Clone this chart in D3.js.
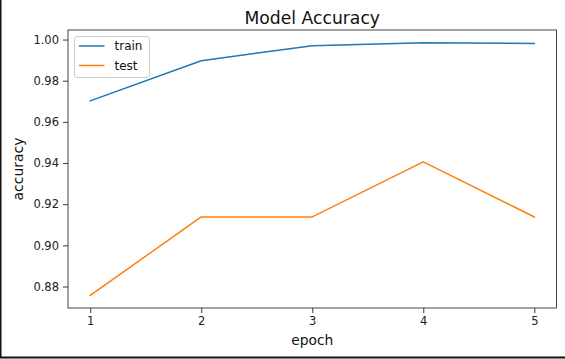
<!DOCTYPE html>
<html><head><meta charset="utf-8">
<script src="https://cdn.jsdelivr.net/npm/d3@7"></script>
<style>
html,body{margin:0;padding:0;background:#fff;}
svg{display:block;font-family:"DejaVu Sans",sans-serif;}
</style></head>
<body>
<svg id="chart" width="565" height="359"></svg>
<script>
const epochs = [1, 2, 3, 4, 5];
const trainAcc = [0.9702, 0.9897, 0.9970, 0.9985, 0.9981];
const testAcc = [0.8757, 0.9138, 0.9138, 0.9406, 0.9138];
const yTicks = [0.88, 0.90, 0.92, 0.94, 0.96, 0.98, 1.00];
const seriesNames = ["train", "test"];
const colors = ["#1f77b4", "#ff7f0e"];

const svg = d3.select("#chart");
const W = 565, H = 359;
const m = {left: 68, right: 8.5, top: 30, bottom: 51};

// outer frame (left & bottom dark edges as in reference)
svg.append("line").attr("x1", 0.5).attr("x2", 0.5).attr("y1", 0).attr("y2", 358).attr("stroke", "#111").attr("stroke-width", 2);
svg.append("line").attr("x1", 0).attr("x2", W).attr("y1", 357.5).attr("y2", 357.5).attr("stroke", "#111").attr("stroke-width", 2);

const all = trainAcc.concat(testAcc);
const ymin = d3.min(all), ymax = d3.max(all);
const pad = (ymax - ymin) * 0.05;
const x = d3.scaleLinear().domain([0.8, 5.2]).range([m.left, W - m.right]);
const y = d3.scaleLinear().domain([ymin - pad, ymax + pad]).range([H - m.bottom, m.top]);

const g = svg.append("g");

// lines
const line = d3.line().x((d, i) => x(epochs[i])).y(d => y(d));
[trainAcc, testAcc].forEach((s, k) => {
  g.append("path").datum(s).attr("d", line).attr("fill", "none")
    .attr("stroke", colors[k]).attr("stroke-width", 1.5).attr("stroke-linejoin", "round").attr("stroke-linecap", "square");
});

// axes
const xAxis = d3.axisBottom(x).tickValues(epochs).tickFormat(d3.format("d")).tickSize(5).tickPadding(3.5);
const yAxis = d3.axisLeft(y).tickValues(yTicks).tickFormat(d3.format(".2f")).tickSize(5).tickPadding(4);
const gx = svg.append("g").attr("transform", `translate(0,${H - m.bottom})`).call(xAxis);
const gy = svg.append("g").attr("transform", `translate(${m.left},0)`).call(yAxis);
[gx, gy].forEach(a => {
  a.select(".domain").remove();
  a.selectAll("line").attr("stroke", "#222").attr("stroke-width", 0.9);
  a.selectAll("text").attr("font-size", 11.5).attr("fill", "#222").attr("font-family", "DejaVu Sans");
});

// spines
svg.append("rect").attr("x", m.left).attr("y", m.top).attr("width", W - m.right - m.left).attr("height", H - m.bottom - m.top)
  .attr("fill", "none").attr("stroke", "#333").attr("stroke-width", 0.9);

// title & labels
svg.append("text").attr("x", (m.left + W - m.right) / 2).attr("y", 23.5).attr("text-anchor", "middle")
  .attr("font-size", 17.2).attr("fill", "#111").text("Model Accuracy");
svg.append("text").attr("x", (m.left + W - m.right) / 2).attr("y", 344.5).attr("text-anchor", "middle")
  .attr("font-size", 13.8).attr("fill", "#111").text("epoch");
svg.append("text").attr("transform", `translate(23,${(m.top + H - m.bottom) / 2}) rotate(-90)`).attr("text-anchor", "middle")
  .attr("font-size", 14).attr("fill", "#111").text("accuracy");

// legend
const lg = svg.append("g").attr("transform", "translate(74.5,36.5)");
lg.append("rect").attr("width", 75).attr("height", 41).attr("rx", 2.5).attr("fill", "#fff").attr("fill-opacity", 0.8)
  .attr("stroke", "#ccc").attr("stroke-width", 1);
seriesNames.forEach((n, i) => {
  lg.append("line").attr("x1", 4.5).attr("x2", 30).attr("y1", 9.5 + i * 19.5).attr("y2", 9.5 + i * 19.5)
    .attr("stroke", colors[i]).attr("stroke-width", 1.5);
  lg.append("text").attr("x", 40).attr("y", 9.5 + i * 19.5 + 4.3).attr("font-size", 12).attr("fill", "#111").text(n);
});
</script>
</body></html>
